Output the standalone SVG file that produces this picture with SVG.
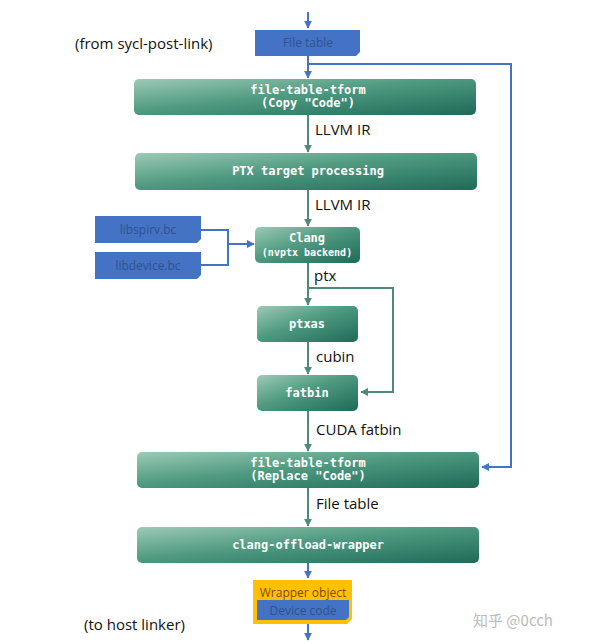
<svg xmlns="http://www.w3.org/2000/svg" width="600" height="644" viewBox="0 0 600 644">
<defs>
<linearGradient id="g" x1="0" y1="0" x2="1" y2="1">
<stop offset="0" stop-color="#9ccab6"/><stop offset="0.45" stop-color="#4f9a80"/><stop offset="1" stop-color="#1f6a58"/>
</linearGradient>
<marker id="ag" viewBox="0 0 10 10" refX="9" refY="5" markerWidth="4" markerHeight="4" orient="auto"><path d="M0,0L10,5L0,10z" fill="#4f8a76"/></marker>
<marker id="ab" viewBox="0 0 10 10" refX="9" refY="5" markerWidth="4" markerHeight="4" orient="auto"><path d="M0,0L10,5L0,10z" fill="#4472c4"/></marker>
<style>
.n{fill:url(#g)}
.t{font-family:"DejaVu Sans Mono",monospace;font-weight:bold;font-size:12px;fill:#fff;text-anchor:middle}
.ts{font-size:10px}
.l{font-family:"Open Sans","Liberation Sans",sans-serif;font-size:15px;fill:#111}
.b{fill:#4472c4}
.bt{font-family:"Open Sans","Liberation Sans",sans-serif;font-size:12px;fill:#2f528f;text-anchor:middle}
.cg{fill:none;stroke:#4f8a76;stroke-width:2;marker-end:url(#ag)}
.cb{fill:none;stroke:#4472c4;stroke-width:2;marker-end:url(#ab)}
</style>
</defs>
<rect width="600" height="644" fill="#fff"/>
<g id="connectors">
<path class="cb" d="M308,12V28"/>
<path class="cb" d="M308,56V78"/>
<path class="cb" d="M308,64H511V467H482"/>
<path class="cg" d="M308,115V152"/>
<path class="cg" d="M308,190V226"/>
<path class="cb" d="M201,230H228V265H201M228,244H254"/>
<path class="cg" d="M308,263V305"/>
<path class="cg" d="M308,288H393V392H361"/>
<path class="cg" d="M308,342V374"/>
<path class="cg" d="M308,411V451"/>
<path class="cg" d="M308,488V526"/>
<path class="cb" d="M308,563V578"/>
<path class="cb" d="M308,624V640"/>
</g>
<text class="l" x="75" y="49">(from sycl-post-link)</text>
<text class="l" x="84" y="630">(to host linker)</text>
<text class="l" x="315" y="135">LLVM IR</text>
<text class="l" x="315" y="210">LLVM IR</text>
<text class="l" x="314" y="281">ptx</text>
<text class="l" x="316" y="362">cubin</text>
<text class="l" x="316" y="435">CUDA fatbin</text>
<text class="l" x="316" y="509">File table</text>
<g id="filetable"><path class="b" d="M255,30H360V52L356,56H255z"/><text class="bt" x="308" y="47">File table</text></g>
<g id="tform1"><rect class="n" x="134" y="79" width="342" height="36" rx="5"/><text class="t" x="308" y="94">file-table-tform</text><text class="t" x="308" y="107">(Copy "Code")</text></g>
<g id="ptx"><rect class="n" x="135" y="153" width="342" height="37" rx="5"/><text class="t" x="308" y="175">PTX target processing</text></g>
<g id="libspirv"><path class="b" d="M95,216H201V239L197,243H95z"/><text class="bt" x="148" y="234">libspirv.bc</text></g>
<g id="libdevice"><path class="b" d="M95,252H201V275L197,279H95z"/><text class="bt" x="148" y="270">libdevice.bc</text></g>
<g id="clang"><rect class="n" x="255" y="227" width="105" height="36" rx="5"/><text class="t" x="307" y="242">Clang</text><text class="t ts" x="307" y="256">(nvptx backend)</text></g>
<g id="ptxas"><rect class="n" x="257" y="306" width="101" height="36" rx="5"/><text class="t" x="307" y="328">ptxas</text></g>
<g id="fatbin"><rect class="n" x="257" y="375" width="101" height="36" rx="5"/><text class="t" x="307" y="397">fatbin</text></g>
<g id="tform2"><rect class="n" x="137" y="452" width="342" height="36" rx="5"/><text class="t" x="308" y="467">file-table-tform</text><text class="t" x="308" y="480">(Replace "Code")</text></g>
<g id="wrapper"><rect class="n" x="137" y="527" width="342" height="36" rx="5"/><text class="t" x="308" y="549">clang-offload-wrapper</text></g>
<g id="wrapobj"><path d="M253,580H352V619L347,624H253z" fill="#ffc000"/><text x="303" y="597" font-family="Open Sans,Liberation Sans,sans-serif" font-size="12" fill="#7f4a00" text-anchor="middle">Wrapper object</text>
<path class="b" d="M257,600H349V617L346,620H257z"/><text class="bt" x="303" y="615">Device code</text></g>
<text x="473" y="626" font-family="Noto Sans CJK SC,sans-serif" font-size="15" fill="#bbb">知乎 @0cch</text>
</svg>
